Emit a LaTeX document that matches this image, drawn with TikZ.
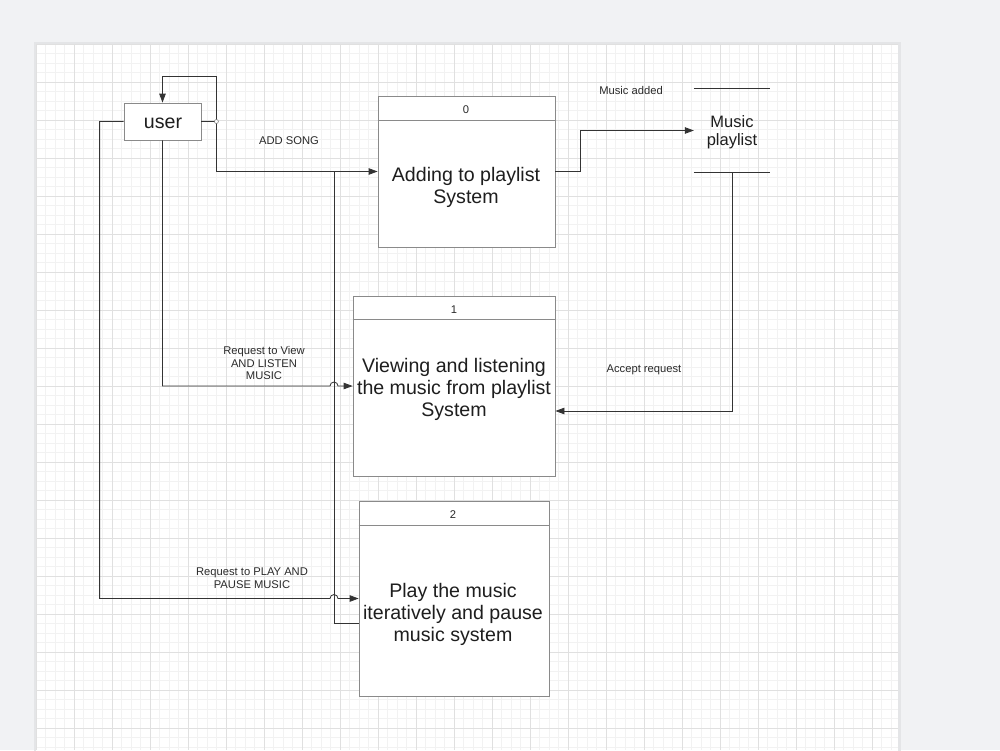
\documentclass[tikz,border=0pt]{standalone}
\usepackage{fontspec}
\setmainfont{Liberation Sans}
\usetikzlibrary{arrows.meta,calc}
\definecolor{bgc}{HTML}{F1F2F4}
\definecolor{shadowc}{HTML}{E4E5E7}
\definecolor{minorc}{HTML}{F2F2F2}
\definecolor{majorc}{HTML}{E0E0E0}
\definecolor{linec}{HTML}{333333}
\definecolor{boxc}{HTML}{8A8A8A}
\definecolor{txtc}{HTML}{1E1E1E}
\definecolor{smallc}{HTML}{2A2A2A}
\begin{document}
\begin{tikzpicture}[x=1pt,y=-1pt,
  procbox/.style 2 args={draw=boxc, line width=0.8pt, fill=white, inner sep=0pt,
     minimum width=#1, minimum height=#2},
  bigtext/.style={text=txtc, align=center, inner sep=0pt,
     font=\fontsize{19.6}{22}\selectfont},
  storetext/.style={text=txtc, align=center, inner sep=0pt,
     font=\fontsize{16.5}{18}\selectfont},
  smalltext/.style={text=smallc, align=center, inner sep=0pt,
     font=\fontsize{11.2}{12.5}\selectfont},
  flow/.style={draw=linec, line width=0.8pt},
  flowarrow/.style={flow, -{Triangle[length=9pt,width=6.5pt]}},
]
\useasboundingbox (0,0) rectangle (1000,750);
% background and page
\fill[bgc] (0,0) rectangle (1000,750);
\begin{scope}
\clip (0,0) rectangle (1000,750);
\draw[shadowc, line width=3pt] (35,43) rectangle (899,780);
\fill[white] (36,44) rectangle (898,780);
\foreach \i in {0,...,90}{
  \draw[minorc, line width=0.5pt] (36+9.5*\i,44) -- (36+9.5*\i,750);
}
\foreach \j in {0,...,74}{
  \draw[minorc, line width=0.5pt] (36,44+9.5*\j) -- (898,44+9.5*\j);
}
\foreach \i in {0,...,22}{
  \draw[majorc, line width=0.6pt] (36+38*\i,44) -- (36+38*\i,750);
}
\foreach \j in {0,...,18}{
  \draw[majorc, line width=0.6pt] (36,44+38*\j) -- (898,44+38*\j);
}
\end{scope}

% user entity
\node[procbox={77pt}{37pt}] (user) at (162.5,121.5) {};
\node[bigtext] (ut) at (163,123) {user};

% process boxes
\node[procbox={177pt}{151pt}] (b0) at (466.5,171.5) {};
\draw[boxc, line width=0.8pt] ($(b0.north west)+(0,25)$) coordinate (h0l) -- ($(b0.north east)+(0,25)$) coordinate (h0r);
\node[smalltext] (n0) at (466,109.5) {0};
\node[bigtext] (t0) at (466,187) {Adding to playlist\\System};

\node[procbox={202pt}{180pt}] (b1) at (454,386) {};
\draw[boxc, line width=0.8pt] ($(b1.north west)+(0,24)$) coordinate (h1l) -- ($(b1.north east)+(0,24)$) coordinate (h1r);
\node[smalltext] (n1) at (454,309.5) {1};
\node[bigtext] (t1) at (454,389) {Viewing and listening\\the music from playlist\\System};

\node[procbox={190pt}{195pt}] (b2) at (454,598.5) {};
\draw[boxc, line width=0.8pt] ($(b2.north west)+(0,25)$) coordinate (h2l) -- ($(b2.north east)+(0,25)$) coordinate (h2r);
\node[smalltext] (n2) at (453,514.5) {2};
\node[bigtext] (t2) at (453,614) {Play the music\\iteratively and pause\\music system};

% data store
\node[inner sep=0pt, minimum width=76pt, minimum height=83pt] (store) at (732,130.5) {};
\draw[linec, line width=0.8pt] (store.north west) -- (store.north east);
\draw[linec, line width=0.8pt] (store.south west) -- (store.south east);
\node[storetext] (st) at (732,132) {Music\\playlist};

% connector coordinates
\coordinate (hopA) at ($(user.east)+(15,0)$);
\coordinate (j1) at (334,171.5);
\coordinate (x1) at (j1 |- b1.west);
\coordinate (x2) at (j1 |- b2.west);

% user -> adding (ADD SONG)
\draw[flowarrow] (user.east) -- (hopA) |- (b0.west);
% loop back to user
\draw[flowarrow] (hopA) -- ++(0,-45) -| (user.north);
\draw[linec!70, line width=0.5pt, fill=white] (hopA) circle[radius=2pt];
% branch down to process 2
\draw[flow] (j1) |- ([yshift=-24.5pt]b2.west);
% adding -> store (Music added)
\draw[flowarrow] (b0.east) -- ++(25,0) |- (store.west);
% store -> viewing (Accept request)
\draw[flowarrow] (store.south) |- ([yshift=-25pt]b1.east);
% user -> viewing
\draw[flowarrow] (user.south) |- ([xshift=-4pt]x1) arc[start angle=180, end angle=0, radius=4pt] -- (b1.west);
% user -> play
\draw[flowarrow] (user.west) -- ++(-24,0) |- ([xshift=-4pt]x2) arc[start angle=180, end angle=0, radius=4pt] -- (b2.west);

% labels
\node[smalltext] (lAdd) at (289,141) {ADD SONG};
\node[smalltext] (lMusic) at (631,90.5) {Music added};
\node[smalltext] (lAccept) at (644,369.5) {Accept request};
\node[smalltext] (lView) at (264,363) {Request to View\\AND LISTEN\\MUSIC};
\node[smalltext] (lPlay) at (252,578) {Request to PLAY AND\\PAUSE MUSIC};
\end{tikzpicture}
\end{document}
